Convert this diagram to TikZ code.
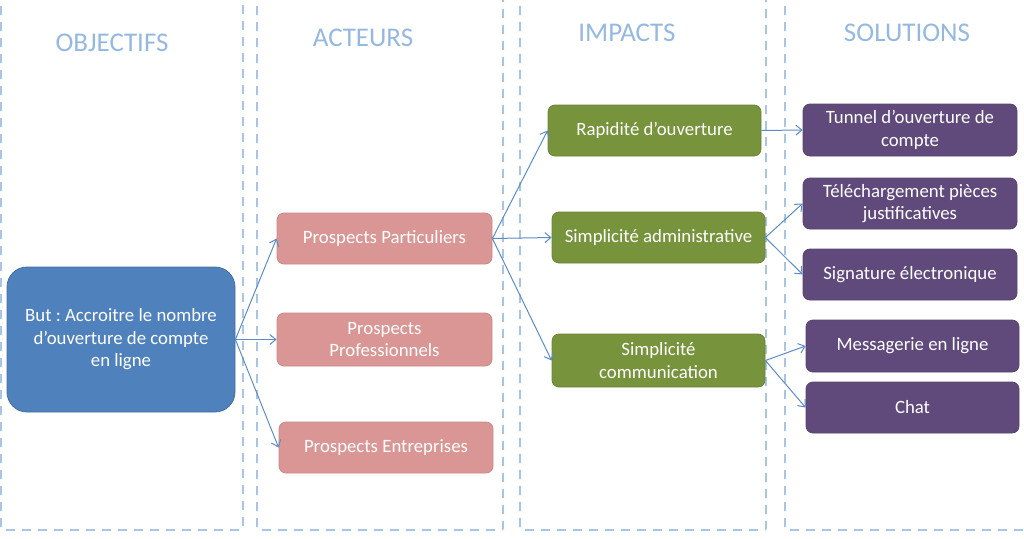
\documentclass[tikz,border=0pt]{standalone}
\usepackage{fontspec}
\setmainfont{Carlito}
\usetikzlibrary{arrows.meta}
\frenchspacing
\definecolor{cblue}{HTML}{4F81BD}
\definecolor{cpink}{HTML}{D99694}
\definecolor{cgreen}{HTML}{77933C}
\definecolor{cpurple}{HTML}{604A7B}
\definecolor{cdash}{HTML}{A9C5E6}
\definecolor{chead}{HTML}{95B8E2}
\definecolor{carrow}{HTML}{5B8CC8}
\begin{document}
\begin{tikzpicture}[x=1pt,y=-1pt,
  box/.style={rounded corners=7pt, text=white, align=center,
    font=\fontsize{18.8}{22.5}\selectfont, inner sep=0pt, line width=0.8pt},
  bluebox/.style={box, fill=cblue, draw=cblue!85!black, rounded corners=20pt},
  pinkbox/.style={box, fill=cpink, draw=cpink!92!black},
  greenbox/.style={box, fill=cgreen, draw=cgreen!90!black},
  purplebox/.style={box, fill=cpurple, draw=cpurple!90!black},
  column/.style={draw=cdash, line width=1.8pt, dash pattern=on 9pt off 7pt, rounded corners=2pt},
  header/.style={text=chead, font=\fontsize{27}{32}\selectfont},
  arr/.style={draw=carrow, line width=1pt, -{Straight Barb[length=6pt,width=10pt,line width=1pt]}}
]
\useasboundingbox (0,0) rectangle (1024,538);

% columns
\draw[column] (1,-10) -- (1,530) -- (243,530) -- (243,-10);
\draw[column] (257,-10) -- (257,530) -- (503,530) -- (503,-10);
\draw[column] (520,-10) -- (520,530) -- (766,530) -- (766,-10);
\draw[column] (785,-10) -- (785,530) -- (1040,530);

% headers
\node[header] (h1) at (112,43) {OBJECTIFS};
\node[header] (h2) at (363,38) {ACTEURS};
\node[header] (h3) at (627,33) {IMPACTS};
\node[header] (h4) at (907,33) {SOLUTIONS};

% boxes
\node[bluebox, minimum width=228pt, minimum height=145pt] (but) at (121,339.5)
  {\frenchspacing But : Accroitre le nombre\\d’ouverture de compte\\en ligne};

\node[pinkbox, minimum width=215pt, minimum height=51pt] (p1) at (384.5,238.5) {Prospects Particuliers};
\node[pinkbox, minimum width=215pt, minimum height=53pt] (p2) at (384.5,339.5) {Prospects\\Professionnels};
\node[pinkbox, minimum width=214pt, minimum height=51pt] (p3) at (386,447.5) {Prospects Entreprises};

\node[greenbox, minimum width=213pt, minimum height=51pt] (g1) at (654.5,130.5) {Rapidité d’ouverture};
\node[greenbox, minimum width=213pt, minimum height=51pt] (g2) at (658.5,237.5) {Simplicité administrative};
\node[greenbox, minimum width=213pt, minimum height=53pt] (g3) at (658.5,360.5) {Simplicité\\communication};

\node[purplebox, minimum width=214pt, minimum height=52pt] (s1) at (910,130) {Tunnel d’ouverture de\\compte};
\node[purplebox, minimum width=214pt, minimum height=51pt] (s2) at (910,203.5) {Téléchargement pièces\\justificatives};
\node[purplebox, minimum width=214pt, minimum height=51pt] (s3) at (910,274.5) {Signature électronique};
\node[purplebox, minimum width=213pt, minimum height=52pt] (s4) at (912.5,346) {Messagerie en ligne};
\node[purplebox, minimum width=213pt, minimum height=51pt] (s5) at (912.5,407.5) {Chat};

% connectors
\draw[arr] (but.east) -- (p1.west);
\draw[arr] (but.east) -- (p2.west);
\draw[arr] (but.east) -- (p3.west);
\draw[arr] (p1.east) -- (g1.west);
\draw[arr] (p1.east) -- (g2.west);
\draw[arr] (p1.east) -- (g3.west);
\draw[arr] (g1.east) -- (s1.west);
\draw[arr] (g2.east) -- (s2.west);
\draw[arr] (g2.east) -- (s3.west);
\draw[arr] (g3.east) -- (s4.west);
\draw[arr] (g3.east) -- (s5.west);
\end{tikzpicture}
\end{document}
